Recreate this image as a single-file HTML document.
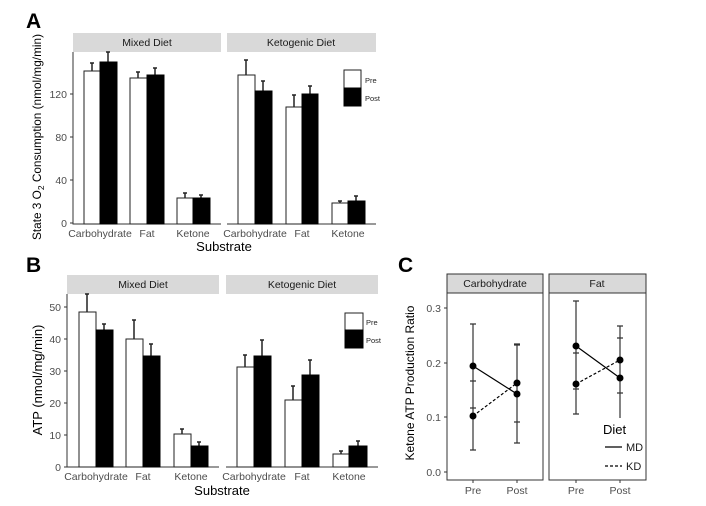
<!DOCTYPE html>
<html><head><meta charset="utf-8"><style>
body{margin:0;background:#fff}
svg{display:block;font-family:"Liberation Sans",sans-serif}
.t{font-size:10.5px;fill:#4d4d4d}
.s{font-size:10.5px;fill:#1a1a1a}
.at{font-size:13px;fill:#000}
.w{fill:#fff;stroke:#222;stroke-width:1}
.b{fill:#000;stroke:#000;stroke-width:1}
.e{stroke:#222;stroke-width:1.5;fill:none}
.ax{stroke:#333;stroke-width:1;fill:none}
.st{fill:#d9d9d9}
.L{font-size:21px;font-weight:bold;fill:#000}
</style></head><body>
<svg width="706" height="506" viewBox="0 0 706 506">
<!-- Panel A -->
<text class="L" x="26" y="28">A</text>
<rect class="st" x="73" y="33" width="148" height="19"/>
<rect class="st" x="227" y="33" width="149" height="19"/>
<text class="s" x="147" y="46" text-anchor="middle">Mixed Diet</text>
<text class="s" x="301" y="46" text-anchor="middle">Ketogenic Diet</text>
<path class="ax" d="M73,52V224H221M227,224H376"/>
<path class="ax" d="M70,223H73M70,180H73M70,137H73M70,94H73"/>
<text class="t" x="67" y="227" text-anchor="end">0</text>
<text class="t" x="67" y="184" text-anchor="end">40</text>
<text class="t" x="67" y="141" text-anchor="end">80</text>
<text class="t" x="67" y="98" text-anchor="end">120</text>
<g>
<path class="e" d="M92,71V63M90,63H94M108,62V52M106,52H110M138,78V72M136,72H140M155,75V68M153,68H157M185,198V193M183,193H187M201,198V195M199,195H203M246,75V60M244,60H248M263,91V81M261,81H265M294,107V95M292,95H296M310,94V86M308,86H312M340,203V201M338,201H342M356,201V196M354,196H358"/>
<rect class="w" x="84" y="71" width="16" height="153"/><rect class="b" x="100" y="62" width="17" height="162"/>
<rect class="w" x="130" y="78" width="17" height="146"/><rect class="b" x="147" y="75" width="17" height="149"/>
<rect class="w" x="177" y="198" width="16" height="26"/><rect class="b" x="193" y="198" width="17" height="26"/>
<rect class="w" x="238" y="75" width="17" height="149"/><rect class="b" x="255" y="91" width="17" height="133"/>
<rect class="w" x="286" y="107" width="16" height="117"/><rect class="b" x="302" y="94" width="16" height="130"/>
<rect class="w" x="332" y="203" width="16" height="21"/><rect class="b" x="348" y="201" width="17" height="23"/>
</g>
<text class="t" x="100" y="237" text-anchor="middle">Carbohydrate</text>
<text class="t" x="147" y="237" text-anchor="middle">Fat</text>
<text class="t" x="193" y="237" text-anchor="middle">Ketone</text>
<text class="t" x="255" y="237" text-anchor="middle">Carbohydrate</text>
<text class="t" x="302" y="237" text-anchor="middle">Fat</text>
<text class="t" x="348" y="237" text-anchor="middle">Ketone</text>
<text class="at" x="224" y="251" text-anchor="middle">Substrate</text>
<text transform="translate(41,137) rotate(-90)" text-anchor="middle" style="font-size:11.8px;fill:#000">State 3 O<tspan style="font-size:8.5px" dy="3">2</tspan><tspan dy="-3"> Consumption (nmol/mg/min)</tspan></text>
<rect class="w" x="344" y="70" width="17" height="18"/><rect class="b" x="344" y="88" width="17" height="18"/>
<text x="365" y="83" font-size="7.5" fill="#222">Pre</text><text x="365" y="101" font-size="7.5" fill="#222">Post</text>

<!-- Panel B -->
<text class="L" x="26" y="272">B</text>
<rect class="st" x="67" y="275" width="152" height="19"/>
<rect class="st" x="226" y="275" width="152" height="19"/>
<text class="s" x="143" y="288" text-anchor="middle">Mixed Diet</text>
<text class="s" x="302" y="288" text-anchor="middle">Ketogenic Diet</text>
<path class="ax" d="M67,294V467H219M226,467H378"/>
<path class="ax" d="M64,467H67M64,435H67M64,403H67M64,371H67M64,339H67M64,307H67"/>
<text class="t" x="61" y="471" text-anchor="end">0</text>
<text class="t" x="61" y="439" text-anchor="end">10</text>
<text class="t" x="61" y="407" text-anchor="end">20</text>
<text class="t" x="61" y="375" text-anchor="end">30</text>
<text class="t" x="61" y="343" text-anchor="end">40</text>
<text class="t" x="61" y="311" text-anchor="end">50</text>
<path class="e" d="M87,312V294M85,294H89M104,330V324M102,324H106M134,339V320M132,320H136M151,356V344M149,344H153M182,434V429M180,429H184M199,446V442M197,442H201M245,367V355M243,355H247M262,356V340M260,340H264M293,400V386M291,386H295M310,375V360M308,360H312M341,454V451M339,451H343M358,446V441M356,441H360"/>
<rect class="w" x="79" y="312" width="17" height="155"/><rect class="b" x="96" y="330" width="17" height="137"/>
<rect class="w" x="126" y="339" width="17" height="128"/><rect class="b" x="143" y="356" width="17" height="111"/>
<rect class="w" x="174" y="434" width="17" height="33"/><rect class="b" x="191" y="446" width="17" height="21"/>
<rect class="w" x="237" y="367" width="17" height="100"/><rect class="b" x="254" y="356" width="17" height="111"/>
<rect class="w" x="285" y="400" width="17" height="67"/><rect class="b" x="302" y="375" width="17" height="92"/>
<rect class="w" x="333" y="454" width="16" height="13"/><rect class="b" x="349" y="446" width="18" height="21"/>
<text class="t" x="96" y="480" text-anchor="middle">Carbohydrate</text>
<text class="t" x="143" y="480" text-anchor="middle">Fat</text>
<text class="t" x="191" y="480" text-anchor="middle">Ketone</text>
<text class="t" x="254" y="480" text-anchor="middle">Carbohydrate</text>
<text class="t" x="302" y="480" text-anchor="middle">Fat</text>
<text class="t" x="349" y="480" text-anchor="middle">Ketone</text>
<text class="at" x="222" y="495" text-anchor="middle">Substrate</text>
<text class="at" transform="translate(42,380) rotate(-90)" text-anchor="middle">ATP (nmol/mg/min)</text>
<rect class="w" x="345" y="313" width="18" height="17"/><rect class="b" x="345" y="330" width="18" height="18"/>
<text x="366" y="325" font-size="7.5" fill="#222">Pre</text><text x="366" y="343" font-size="7.5" fill="#222">Post</text>

<!-- Panel C -->
<text class="L" x="398" y="272">C</text>
<rect class="st" x="447" y="274" width="96" height="19" stroke="#333" stroke-width="1"/>
<rect class="st" x="549" y="274" width="97" height="19" stroke="#333" stroke-width="1"/>
<text class="s" x="495" y="287" text-anchor="middle">Carbohydrate</text>
<text class="s" x="597" y="287" text-anchor="middle">Fat</text>
<rect x="447" y="293" width="96" height="187" fill="none" stroke="#333"/>
<rect x="549" y="293" width="97" height="187" fill="none" stroke="#333"/>
<path class="ax" d="M444,472H447M444,417H447M444,363H447M444,308H447M473,480V483M517,480V483M576,480V483M620,480V483"/>
<text class="t" x="441" y="476" text-anchor="end">0.0</text>
<text class="t" x="441" y="421" text-anchor="end">0.1</text>
<text class="t" x="441" y="367" text-anchor="end">0.2</text>
<text class="t" x="441" y="312" text-anchor="end">0.3</text>
<text class="t" x="473" y="494" text-anchor="middle">Pre</text>
<text class="t" x="517" y="494" text-anchor="middle">Post</text>
<text class="t" x="576" y="494" text-anchor="middle">Pre</text>
<text class="t" x="620" y="494" text-anchor="middle">Post</text>
<text transform="translate(414,383) rotate(-90)" text-anchor="middle" style="font-size:12px;fill:#000">Ketone ATP Production Ratio</text>
<g stroke="#333" stroke-width="1.2" fill="none">
<path d="M473,324V450M470,324H476M470,381H476M470,408H476M470,450H476"/>
<path d="M517,344V443M514,344H520M514,345H520M514,422H520M514,443H520"/>
<path d="M576,301V414M573,301H579M573,353H579M573,389H579M573,414H579"/>
<path d="M620,326V418M617,326H623M617,338H623M617,393H623"/>
</g>
<path d="M473,366L517,394M576,346L620,378" stroke="#000" stroke-width="1.2"/>
<path d="M473,416L517,383M576,384L620,360" stroke="#000" stroke-width="1.2" stroke-dasharray="3,2"/>
<g fill="#000"><circle cx="473" cy="366" r="3.5"/><circle cx="473" cy="416" r="3.5"/><circle cx="517" cy="394" r="3.5"/><circle cx="517" cy="383" r="3.5"/><circle cx="576" cy="346" r="3.5"/><circle cx="576" cy="384" r="3.5"/><circle cx="620" cy="378" r="3.5"/><circle cx="620" cy="360" r="3.5"/></g>
<text x="603" y="434" font-size="13" fill="#000">Diet</text>
<path d="M605,447H622" stroke="#000" stroke-width="1.2"/>
<path d="M605,466H622" stroke="#000" stroke-width="1.2" stroke-dasharray="3,2"/>
<text x="626" y="451" font-size="11" fill="#1a1a1a">MD</text>
<text x="626" y="470" font-size="11" fill="#1a1a1a">KD</text>
</svg>
</body></html>
